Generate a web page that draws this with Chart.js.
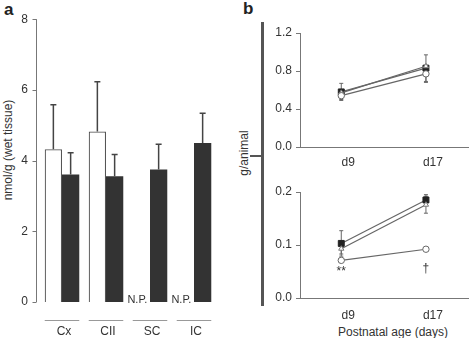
<!DOCTYPE html>
<html>
<head>
<meta charset="utf-8">
<script src="https://cdn.jsdelivr.net/npm/chart.js@4.4.1/dist/chart.umd.min.js"></script>
<style>
  body { margin: 0; background: #fff; width: 474px; height: 338px; position: relative; overflow: hidden;
         font-family: "Liberation Sans", Arial, sans-serif; color: #333; }
  canvas { position: absolute; }
  .txt { position: absolute; font-size: 12px; white-space: nowrap; line-height: 1; }
  .rot { transform: translate(-50%, -50%) rotate(-90deg); }
  .panel { position: absolute; font-weight: bold; font-size: 17px; color: #222; }
</style>
</head>
<body>
<div class="panel" style="left:4px;top:0px">a</div>
<div class="panel" style="left:243px;top:-1px">b</div>
<div class="txt rot" style="left:8px;top:150px">nmol/g (wet tissue)</div>
<div class="txt rot" style="left:244px;top:153px">g/animal</div>
<div style="position:absolute;left:261px;top:22px;width:2.5px;height:284px;background:#555"></div>
<div style="position:absolute;left:250px;top:155px;width:12px;height:1.5px;background:#555"></div>
<div class="txt" style="left:393px;top:332px;transform:translate(-50%,-50%)">Postnatal age (days)</div>

<canvas id="bars" width="240" height="338" style="left:0;top:0"></canvas>
<canvas id="whole" width="212" height="170" style="left:262px;top:0"></canvas>
<canvas id="part" width="212" height="168" style="left:262px;top:170px"></canvas>

<script>
// panel a: tissue content per region
const regions = ["Cx", "CII", "SC", "IC"];
const openMean = [4.32, 4.82, null, null];
const openSd = [1.26, 1.41, null, null];
const filledMean = [3.61, 3.56, 3.75, 4.5];
const filledSd = [0.61, 0.61, 0.71, 0.84];

// panel b: weights at postnatal days 9 and 17
const days = [9, 17];
const wholeSquare = [0.58, 0.83];
const wholeSquareSd = [0.09, 0.14];
const wholeTriangle = [0.57, 0.85];
const wholeTriangleSd = [0.0, 0.0];
const wholeCircle = [0.54, 0.77];
const wholeCircleSd = [0.04, 0.09];

const partSquare = [0.103, 0.185];
const partSquareSd = [0.024, 0.01];
const partTriangle = [0.093, 0.176];
const partTriangleSd = [0.01, 0.016];
const partCircle = [0.071, 0.092];
const partCircleSd = [0.004, 0.002];
const partMarks = [{ day: 9, y: 0.05, text: "**" }, { day: 17, y: 0.056, text: "\u2020" }];

const FONT = { family: "'Liberation Sans', Arial, sans-serif", size: 12 };
const INK = "#333";
const AXIS = "#777";

// y axis line sits a little left of the bars, so draw it by hand
const leftAxis = {
  id: "leftAxis",
  afterDraw(chart) {
    const { ctx, scales: { y } } = chart;
    const x0 = Math.round(chart.chartArea.left - 4) + 0.5;
    ctx.save();
    ctx.strokeStyle = AXIS;
    ctx.lineWidth = 1;
    ctx.beginPath();
    ctx.moveTo(x0, y.getPixelForValue(y.max));
    ctx.lineTo(x0, y.getPixelForValue(0));
    y.ticks.forEach((t) => {
      const py = Math.round(y.getPixelForValue(t.value)) + 0.5;
      ctx.moveTo(x0 - 4, py);
      ctx.lineTo(x0, py);
    });
    ctx.stroke();
    ctx.restore();
  },
};

// upper whiskers, group underlines and N.P. notes
const barExtras = {
  id: "barExtras",
  afterDatasetsDraw(chart) {
    const { ctx, scales: { y } } = chart;
    ctx.save();
    ctx.strokeStyle = "#444";
    ctx.lineWidth = 1.5;
    chart.data.datasets.forEach((ds, i) => {
      chart.getDatasetMeta(i).data.forEach((bar, j) => {
        if (ds.data[j] == null) return;
        const top = y.getPixelForValue(ds.data[j] + ds.sd[j]);
        ctx.beginPath();
        ctx.moveTo(bar.x, bar.y);
        ctx.lineTo(bar.x, top);
        ctx.moveTo(bar.x - 3, top);
        ctx.lineTo(bar.x + 3, top);
        ctx.stroke();
      });
    });
    const filled = chart.getDatasetMeta(1).data;
    const lineY = y.getPixelForValue(0) + 18.5;
    ctx.strokeStyle = "#999";
    ctx.lineWidth = 1;
    ctx.fillStyle = INK;
    ctx.font = "11px 'Liberation Sans', Arial, sans-serif";
    ctx.textAlign = "center";
    ctx.textBaseline = "alphabetic";
    filled.forEach((bar, j) => {
      const w = bar.width;
      ctx.beginPath();
      ctx.moveTo(bar.x - 1.5 * w, lineY);
      ctx.lineTo(bar.x + 0.5 * w, lineY);
      ctx.stroke();
      if (openMean[j] == null) {
        ctx.fillText("N.P.", bar.x - w - 4, y.getPixelForValue(0) + 1);
      }
    });
    ctx.restore();
  },
};

new Chart(document.getElementById("bars"), {
  type: "bar",
  data: {
    labels: regions,
    datasets: [
      { data: openMean, sd: openSd, backgroundColor: "#fff", borderColor: "#555", borderWidth: 1.2, base: -0.08 },
      { data: filledMean, sd: filledSd, backgroundColor: "#333", borderColor: "#333", borderWidth: 0, base: -0.08 },
    ],
  },
  options: {
    responsive: false,
    animation: false,
    layout: { padding: { top: 17, right: 24, left: 0, bottom: 0 } },
    plugins: { legend: { display: false }, tooltip: { enabled: false } },
    datasets: { bar: { categoryPercentage: 0.785, barPercentage: 1.0 } },
    scales: {
      x: {
        grid: { display: false, drawTicks: false },
        border: { display: false },
        ticks: { color: INK, font: FONT, padding: 22, labelOffset: 2 },
        afterFit: (s) => { s.height = 36; },
      },
      y: {
        min: 0,
        max: 8,
        grid: { display: false, drawTicks: false },
        border: { display: false },
        ticks: { stepSize: 2, color: INK, font: FONT, padding: 12 },
        afterFit: (s) => { s.width = 40; },
      },
    },
  },
  plugins: [leftAxis, barExtras],
});

// vertical error bars under the markers
const lineErrors = {
  id: "lineErrors",
  beforeDatasetsDraw(chart) {
    const { ctx, scales: { x, y } } = chart;
    ctx.save();
    ctx.strokeStyle = "#666";
    ctx.lineWidth = 1;
    chart.data.datasets.forEach((ds) => {
      ds.data.forEach((p, j) => {
        const sd = ds.sd[j];
        if (!sd) return;
        const px = x.getPixelForValue(p.x);
        const hi = y.getPixelForValue(p.y + sd);
        const lo = y.getPixelForValue(p.y - sd);
        ctx.beginPath();
        ctx.moveTo(px, lo);
        ctx.lineTo(px, hi);
        ctx.moveTo(px - 2, hi);
        ctx.lineTo(px + 2, hi);
        ctx.moveTo(px - 2, lo);
        ctx.lineTo(px + 2, lo);
        ctx.stroke();
      });
    });
    ctx.restore();
  },
  afterDraw(chart) {
    const marks = chart.options.plugins.lineErrors.marks || [];
    const { ctx, scales: { x, y } } = chart;
    ctx.save();
    ctx.fillStyle = INK;
    ctx.font = "12px 'Liberation Sans', Arial, sans-serif";
    ctx.textAlign = "center";
    ctx.textBaseline = "middle";
    marks.forEach((m) => ctx.fillText(m.text, x.getPixelForValue(m.day), y.getPixelForValue(m.y)));
    ctx.restore();
  },
};

const pts = (vals) => days.map((d, i) => ({ x: d, y: vals[i] }));

function series(vals, sd, style) {
  const base = { data: pts(vals), sd, borderColor: "#666", borderWidth: 1.2, pointBorderWidth: 1 };
  if (style === "square") {
    return Object.assign(base, { pointStyle: "rect", pointRadius: 4.2, pointBackgroundColor: "#222", pointBorderColor: "#222" });
  }
  if (style === "triangle") {
    return Object.assign(base, { pointStyle: "triangle", pointRadius: 3, pointBackgroundColor: "#fff", pointBorderColor: "#777" });
  }
  return Object.assign(base, { pointStyle: "circle", pointRadius: 3.2, pointBackgroundColor: "#fff", pointBorderColor: "#666" });
}

function weightChart(id, sets, yMax, yStep, top, xHeight, xPad, marks) {
  return new Chart(document.getElementById(id), {
    type: "line",
    data: { datasets: sets },
    options: {
      responsive: false,
      animation: false,
      layout: { padding: { top, right: 1, left: 0, bottom: 0 } },
      plugins: { legend: { display: false }, tooltip: { enabled: false }, lineErrors: { marks } },
      scales: {
        x: {
          type: "linear",
          min: 5.1,
          max: 21.05,
          afterBuildTicks: (s) => { s.ticks = days.map((d) => ({ value: d })); },
          grid: { display: false, drawTicks: false },
          border: { display: true, color: AXIS, width: 1 },
          ticks: { color: INK, font: FONT, padding: xPad, labelOffset: 7, callback: (v) => "d" + v },
          afterFit: (s) => { s.height = xHeight; },
        },
        y: {
          min: 0,
          max: yMax,
          grid: { drawOnChartArea: false, drawTicks: true, tickLength: 4, color: AXIS },
          border: { display: true, color: AXIS, width: 1 },
          ticks: { stepSize: yStep, color: INK, font: FONT, padding: 4, callback: (v) => v.toFixed(1) },
          afterFit: (s) => { s.width = 38; },
        },
      },
    },
    plugins: [lineErrors],
  });
}

weightChart("whole", [
  series(wholeCircle, wholeCircleSd, "circle"),
  series(wholeTriangle, wholeTriangleSd, "triangle"),
  series(wholeSquare, wholeSquareSd, "square"),
], 1.2, 0.4, 33, 23, 8, []);

weightChart("part", [
  series(partCircle, partCircleSd, "circle"),
  series(partTriangle, partTriangleSd, "triangle"),
  series(partSquare, partSquareSd, "square"),
], 0.2, 0.1, 22, 40, 10, partMarks);
</script>
</body>
</html>
